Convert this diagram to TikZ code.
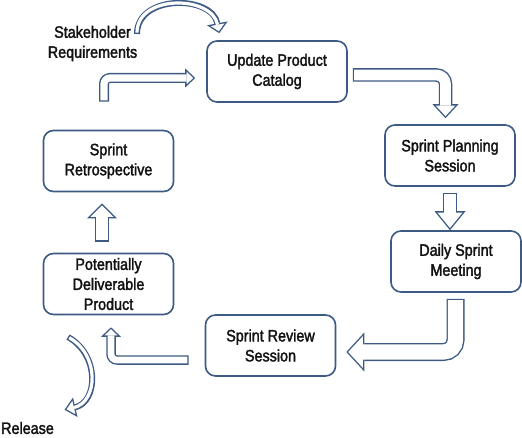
\documentclass[tikz,border=0pt]{standalone}
\usepackage{fontspec}
\setmainfont{Liberation Sans}[FakeStretch=0.87, FakeBold=2]
\usetikzlibrary{arrows.meta,calc}

\newlength{\du}
\setlength{\du}{1pt}
\definecolor{dialinecolor}{rgb}{0.235000, 0.353000, 0.515000}
\definecolor{diatextcolor}{rgb}{0.070000, 0.070000, 0.070000}
\newcommand{\fatol}{1.4}

\tikzset{
  stagebox/.style={draw=dialinecolor, line width=1.6\du, rounded corners=10\du,
    fill=white, minimum width=130\du, minimum height=61\du, inner sep=0pt,
    align=center, text=diatextcolor, font=\fontsize{16.5}{20}\selectfont},
  sidelabel/.style={inner sep=0pt, align=center, text=diatextcolor,
    font=\fontsize{16.5}{20}\selectfont},
  fatline/.style={draw=dialinecolor, line cap=butt},
}

% fat outlined arrow: [corner] shaft width, head length, head width, path (1\du = 1pt)
\newcommand{\fatarrow}[5][0]{%
  \pgfmathsetmacro{\fatback}{\fatol*sqrt(1+(2*#3/#4)^2)}%
  \pgfmathsetmacro{\fatlen}{#3-\fatol-\fatback}%
  \pgfmathsetmacro{\fatwid}{\fatlen*#4/#3}%
  \pgfmathsetmacro{\fatin}{#2-2*\fatol}%
  \draw[fatline, dialinecolor, line width=#2pt, rounded corners=#1pt,
    -{Triangle[length=#3pt, width=#4pt, line width=0pt]}] #5;
  \draw[white, line width=\fatin pt, rounded corners=#1pt,
    shorten <=\fatol pt, shorten >=\fatback pt,
    -{Triangle[length=\fatlen pt, width=\fatwid pt, line width=0pt]}] #5;
}

\begin{document}
\begin{tikzpicture}[x=1\du, y=-1\du]
\useasboundingbox (0,0) rectangle (522,438);

% the stages
\node[stagebox, minimum width=140\du] (update) at (277,71.5) {Update Product\\Catalog};
\node[stagebox] (planning) at (450,155.5) {Sprint Planning\\Session};
\node[stagebox] (daily) at (456,261.5) {Daily Sprint\\Meeting};
\node[stagebox] (review) at (270.5,345.5) {Sprint Review\\Session};
\node[stagebox] (deliverable) at (108.5,284) {Potentially\\Deliverable\\Product};
\node[stagebox] (retro) at (108.5,161) {Sprint\\Retrospective};

% outside inputs and outputs
\node[sidelabel] (stake) at (92.5,43.5) {Stakeholder\\Requirements};
\node[sidelabel, anchor=west] (release) at (1,428) {Release};
\coordinate (stakefoot) at (137,34);
\coordinate (releasetop) at (68,337);

% the cycle
\fatarrow[6]{10}{10}{19}{($(retro.north)+(-4.5,-28)$) |- ($(update.west)+(-11,6.5)$)}
\fatarrow[9]{13.5}{14}{26}{($(update.east)+(5,3.5)$) -| ($(planning.north)+(-4.5,-6)$)}
\fatarrow{14.5}{19}{31}{($(planning.south)+(0,6)$) -- ($(daily.north)+(-6,0)$)}
\fatarrow[12]{18}{18}{39}{($(daily.south)+(-0.5,6)$) |- ($(review.east)+(10,6.5)$)}
\fatarrow[6]{9.5}{9.5}{20}{($(review.west)+(-16,14.5)$) -| ($(deliverable.south)+(2.5,12)$)}
\fatarrow{14}{15}{30}{($(deliverable.north)+(-6.5,-11)$) -- ($(retro.south)+(-6.5,11)$)}

% requirements in, release out
\fatarrow{6}{10}{21}{(stakefoot) .. controls (137,-6) and (212,-5) .. ($(update.north west)+(13,-7)$)}
\fatarrow{6}{11}{20}{(releasetop) .. controls (100,355) and (98,402) .. ($(release.north)+(37,-12)$)}
\end{tikzpicture}
\end{document}
